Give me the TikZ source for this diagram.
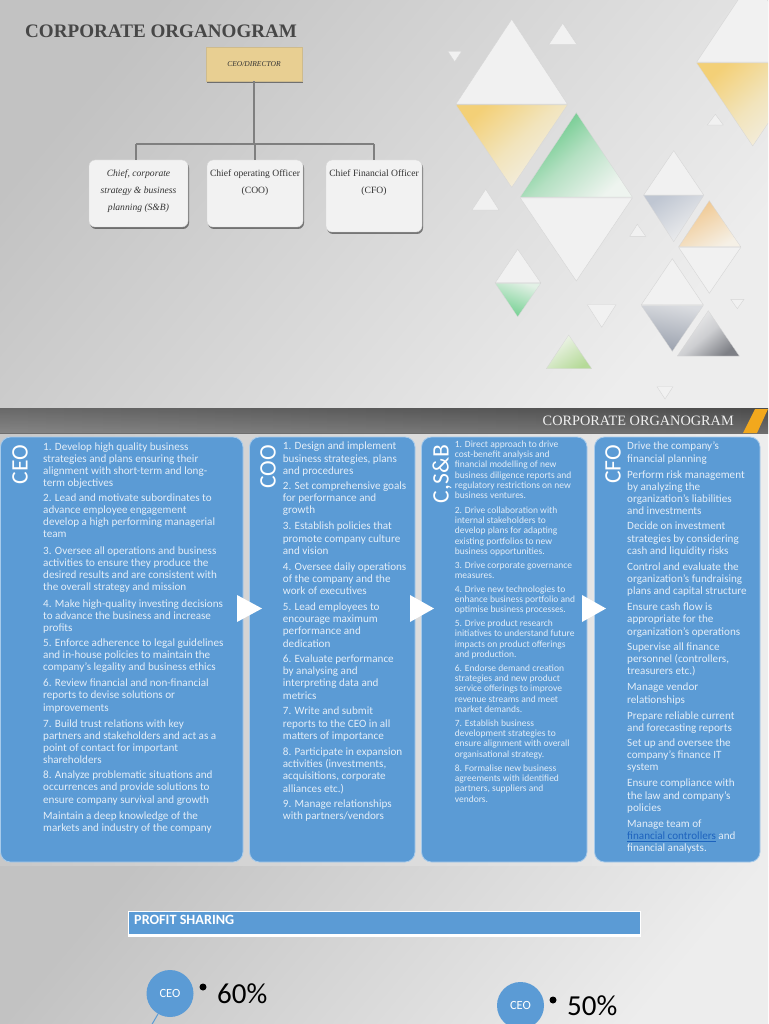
\documentclass[tikz,border=0pt]{standalone}
\usepackage{fontspec}
\setmainfont{Liberation Serif}
\newfontfamily\carlito{Carlito}
\usetikzlibrary{shadows,fadings}
\definecolor{panelblue}{HTML}{5B9BD5}
\definecolor{panelrim}{HTML}{A8CBEB}
\definecolor{bodyink}{HTML}{E4EEF8}
\definecolor{tri}{HTML}{F1F1F1}
\definecolor{triline}{HTML}{D6D6D6}
\definecolor{conn}{HTML}{7F7F7F}
\definecolor{linkblue}{HTML}{1D63BE}
\newcommand{\hexc}[1]{\definecolor{#1}{HTML}{#1}}
\hexc{C2C2C2}\hexc{C8C8C8}\hexc{EDEDED}\hexc{4C4C4C}\hexc{6E6E6E}\hexc{F2A81D}\hexc{F3D077}\hexc{F3F0E8}
\hexc{5AC47E}\hexc{EEF4EF}\hexc{BFC6D2}\hexc{F0F0F0}\hexc{F0C58A}\hexc{F5F0E6}\hexc{DADCE0}\hexc{99A0AD}
\hexc{7E8086}\hexc{E2F0E5}\hexc{6FCF8E}\hexc{F3F6F0}\hexc{B5DA98}\hexc{E8CF92}\hexc{F2F2F2}
\hexc{F2E4BC}\hexc{B4E0C2}\hexc{CDCED1}
\newcommand{\botpad}[1]{\rule[-#1pt]{0pt}{1pt}}
\tikzset{
  x=1pt,y=-1pt,
  panel/.style={fill=panelblue,draw=panelrim,line width=0.8pt,rounded corners=10pt},
  bodytxt/.style={font=\carlito\fontsize{11.12}{12.2}\selectfont,align=left,inner sep=0pt,anchor=north west,text=bodyink,yshift=-1.5pt},
  smalltxt/.style={font=\carlito\fontsize{9.5}{10.3}\selectfont,align=left,inner sep=0pt,anchor=north west,text=bodyink,yshift=-1pt},
  sidetxt/.style={font=\carlito\fontsize{23.6}{24}\selectfont,text=white,rotate=90,inner sep=0pt},
  orgbox/.style={fill=#1,draw=#1!75!gray,line width=0.4pt,inner sep=0pt,align=center,text=black!80,
     drop shadow={shadow xshift=1pt,shadow yshift=-2pt,fill=black,opacity=0.45}},
  orgfont/.style={font=\fontsize{9.6}{17}\selectfont},
  link/.style={draw=conn,line width=1.3pt},
  whitetri/.style={fill=tri,draw=triline,line width=0.4pt},
  arrowtri/.style={fill=white,draw=none},
  slideshade/.style={shading=axis,top color=#1,bottom color=white!93!black,shading angle=50},
  gradtri/.style n args={3}{draw=triline,line width=0.3pt,shading=axis,top color=#1,bottom color=#2,shading angle=#3},
  midtri/.style n args={4}{draw=triline,line width=0.3pt,shading=axis,top color=#1,bottom color=#2,middle color=#3,shading angle=#4},
  ceodot/.style={circle,fill=panelblue,inner sep=0pt,minimum size=47pt,text=white,font=\carlito\fontsize{12.5}{12.5}\selectfont},
  pct/.style={font=\carlito\fontsize{29}{29}\selectfont,text=black,inner sep=0pt,anchor=west},
  bullet/.style={circle,fill=black,inner sep=0pt,minimum size=7pt},
}
\begin{document}
\begin{tikzpicture}
\useasboundingbox (0,0) rectangle (768,1024);
\clip (0,0) rectangle (768,1024);
% backgrounds
\shade[slideshade=C2C2C2] (0,0) rectangle (768,408);
\shade[left color=C8C8C8,right color=EDEDED] (0,408) rectangle (768,866);
\shade[slideshade=C2C2C2] (0,866) rectangle (768,1024);
\shade[top color=4C4C4C,bottom color=6E6E6E] (0,408) rectangle (768,433);
\fill[white,opacity=0.16,path fading=east] (0,408) rectangle (768,433);
\fill[F2A81D] (755,409) -- (768,409) -- (757,433) -- (743,433) -- cycle;
% triangles
\filldraw[whitetri] (511.7,19.3) -- (456,104) -- (567.3,104) -- cycle;
\shadedraw[midtri={F3D077}{F3F0E8}{F2E4BC}{42}] (456,105) -- (567.3,105) -- (511.7,187.3) -- cycle;
\filldraw[whitetri] (562.7,23.3) -- (549,44.3) -- (576.7,44.3) -- cycle;
\filldraw[whitetri] (447.7,51.3) -- (461.7,51.3) -- (454.7,61.7) -- cycle;
\filldraw[whitetri] (696.7,62) -- (808.7,62) -- (752.7,-22) -- cycle;
\shadedraw[midtri={F3D077}{F3F0E8}{F2E4BC}{42}] (696.7,63) -- (808.7,63) -- (752.7,146) -- cycle;
\filldraw[whitetri] (715.3,114.3) -- (707.3,125) -- (723.3,125) -- cycle;
\shadedraw[midtri={5AC47E}{EEF4EF}{B4E0C2}{42}] (576.3,112.7) -- (520.3,197) -- (632.3,197) -- cycle;
\filldraw[whitetri] (520.3,198) -- (632.3,198) -- (576.3,281) -- cycle;
\filldraw[whitetri] (485.7,189.3) -- (472,210) -- (499,210) -- cycle;
\filldraw[whitetri] (637.3,224.3) -- (629.7,236.3) -- (645.7,236.3) -- cycle;
\filldraw[whitetri] (673.7,150.7) -- (643.7,195) -- (703.7,195) -- cycle;
\shadedraw[gradtri={BFC6D2}{F0F0F0}{35}] (643.7,195.5) -- (703.7,195.5) -- (673.7,241.7) -- cycle;
\shadedraw[gradtri={F0C58A}{F5F0E6}{30}] (709.3,200.7) -- (678.7,246.7) -- (740.7,246.7) -- cycle;
\filldraw[whitetri] (678.7,247.5) -- (740.7,247.5) -- (709.3,293.3) -- cycle;
\filldraw[whitetri] (672.3,258.7) -- (641.3,304.7) -- (703.3,304.7) -- cycle;
\shadedraw[gradtri={DADCE0}{99A0AD}{-10}] (641.3,305.5) -- (703.3,305.5) -- (672.3,351.3) -- cycle;
\shadedraw[midtri={F0F0F0}{7E8086}{CDCED1}{40}] (708.3,310.7) -- (677.3,356) -- (739.3,356) -- cycle;
\filldraw[whitetri] (730.7,299.3) -- (744,299.3) -- (737.3,308.7) -- cycle;
\filldraw[whitetri] (517.7,249.3) -- (495.3,282.7) -- (540.7,282.7) -- cycle;
\shadedraw[gradtri={E2F0E5}{6FCF8E}{-20}] (495.3,283.3) -- (540.7,283.3) -- (517.7,316.7) -- cycle;
\filldraw[whitetri] (587.3,304.7) -- (616,304.7) -- (601.7,327.3) -- cycle;
\shadedraw[gradtri={F3F6F0}{B5DA98}{35}] (568.7,335) -- (546.3,368.7) -- (591.7,368.7) -- cycle;
\filldraw[whitetri] (657,386.7) -- (673,386.7) -- (665,399) -- cycle;
% top slide
\node[font=\bfseries\fontsize{19.1}{20}\selectfont,text=black!72,anchor=west,inner sep=0pt] (maintitle) at (25,31) {CORPORATE ORGANOGRAM};
\node[orgbox=E8CF92,minimum width=96pt,minimum height=34pt,font=\itshape\fontsize{7.5}{9}\selectfont] (ceo) at (254,64) {CEO/DIRECTOR};
\node[orgbox=F2F2F2,rounded corners=6pt,minimum width=99pt,minimum height=67pt,font=\itshape\fontsize{9.6}{17}\selectfont] (sb) at (138.5,193.5) {\strut Chief, corporate\\strategy \& business\\planning (S\&B)\botpad{12}};
\node[orgbox=F2F2F2,rounded corners=6pt,minimum width=96pt,minimum height=67pt,orgfont] (coo) at (255,193.5) {\strut Chief operating Officer\\(COO)\\\botpad{12}};
\node[orgbox=F2F2F2,rounded corners=6pt,minimum width=96pt,minimum height=72pt,orgfont] (cfo) at (374,196) {\strut Chief Financial Officer\\(CFO)\\\botpad{17}};
\coordinate (busL) at (136,144);
\coordinate (busR) at (374,144);
\draw[link] (ceo.south) -- (ceo.south |- busL);
\draw[link] (busL) -- (busR);
\draw[link] (busL) -- (busL |- sb.north);
\draw[link] (coo.north) -- (coo.north |- busL);
\draw[link] (busR) -- (busR |- cfo.north);
% band
\node[font=\fontsize{14.3}{16}\selectfont,text=white!94!black,anchor=east,inner sep=0pt] (bandtitle) at (734,420.5) {CORPORATE ORGANOGRAM};
% panels
\draw[panel] (0.5,437) rectangle (243,862);
\draw[panel] (249.5,437) rectangle (415,862);
\draw[panel] (421.5,437) rectangle (587,862);
\draw[panel] (594.5,437) rectangle (760,862);
\node[sidetxt] (lab1) at (20,464.5) {CEO};
\node[sidetxt] (lab2) at (268,467) {COO};
\node[sidetxt] (lab3) at (442,474) {C,S\&B};
\node[sidetxt] (lab4) at (613,464.5) {CFO};
% CEO text
\node[bodytxt] (a1) at (43,440) {\strut 1. Develop high quality business\\strategies and plans ensuring their\\alignment with short-term and long-\\term objectives};
\node[bodytxt] (a2) at (43,491) {\strut 2. Lead and motivate subordinates to\\advance employee engagement\\develop a high performing managerial\\team};
\node[bodytxt] (a3) at (43,544) {\strut 3. Oversee all operations and business\\activities to ensure they produce the\\desired results and are consistent with\\the overall strategy and mission};
\node[bodytxt] (a4) at (43,597) {\strut 4. Make high-quality investing decisions\\to advance the business and increase\\profits};
\node[bodytxt] (a5) at (43,636) {\strut 5. Enforce adherence to legal guidelines\\and in-house policies to maintain the\\company’s legality and business ethics};
\node[bodytxt] (a6) at (43,676.5) {\strut 6. Review financial and non-financial\\reports to devise solutions or\\improvements};
\node[bodytxt] (a7) at (43,717) {\strut 7. Build trust relations with key\\partners and stakeholders and act as a\\point of contact for important\\shareholders};
\node[bodytxt] (a8) at (43,768.5) {\strut 8. Analyze problematic situations and\\occurrences and provide solutions to\\ensure company survival and growth};
\node[bodytxt] (a9) at (43,809) {\strut Maintain a deep knowledge of the\\markets and industry of the company};
% COO text
\node[bodytxt] (b1) at (282.7,439.7) {\strut 1. Design and implement\\business strategies, plans\\and procedures};
\node[bodytxt] (b2) at (282.7,479) {\strut 2. Set comprehensive goals\\for performance and\\growth};
\node[bodytxt] (b3) at (282.7,519.7) {\strut 3. Establish policies that\\promote company culture\\and vision};
\node[bodytxt] (b4) at (282.7,560.3) {\strut 4. Oversee daily operations\\of the company and the\\work of executives};
\node[bodytxt] (b5) at (282.7,600.3) {\strut 5. Lead employees to\\encourage maximum\\performance and\\dedication};
\node[bodytxt] (b6) at (282.7,652.3) {\strut 6. Evaluate performance\\by analysing and\\interpreting data and\\metrics};
\node[bodytxt] (b7) at (282.7,704.7) {\strut 7. Write and submit\\reports to the CEO in all\\matters of importance};
\node[bodytxt] (b8) at (282.7,745.3) {\strut 8. Participate in expansion\\activities (investments,\\acquisitions, corporate\\alliances etc.)};
\node[bodytxt] (b9) at (282.7,797) {\strut 9. Manage relationships\\with partners/vendors};
% C,S&B text
\node[smalltxt] (c1) at (454.7,438.9) {\strut 1. Direct approach to drive\\cost-benefit analysis and\\financial modelling of new\\business diligence reports and\\regulatory restrictions on new\\business ventures.};
\node[smalltxt] (c2) at (454.7,504.9) {\strut 2. Drive collaboration with\\internal stakeholders to\\develop plans for adapting\\existing portfolios to new\\business opportunities.};
\node[smalltxt] (c3) at (454.7,559.9) {\strut 3. Drive corporate governance\\measures.};
\node[smalltxt] (c4) at (454.7,583.9) {\strut 4. Drive new technologies to\\enhance business portfolio and\\optimise business processes.};
\node[smalltxt] (c5) at (454.7,618.2) {\strut 5. Drive product research\\initiatives to understand future\\impacts on product offerings\\and production.};
\node[smalltxt] (c6) at (454.7,662.9) {\strut 6. Endorse demand creation\\strategies and new product\\service offerings to improve\\revenue streams and meet\\market demands.};
\node[smalltxt] (c7) at (454.7,717.9) {\strut 7. Establish business\\development strategies to\\ensure alignment with overall\\organisational strategy.};
\node[smalltxt] (c8) at (454.7,762.9) {\strut 8. Formalise new business\\agreements with identified\\partners, suppliers and\\vendors.};
% CFO text
\node[bodytxt] (d1) at (627,439.7) {\strut Drive the company’s\\financial planning};
\node[bodytxt] (d2) at (627,468) {\strut Perform risk management\\by analyzing the\\organization’s liabilities\\and investments};
\node[bodytxt] (d3) at (627,519.7) {\strut Decide on investment\\strategies by considering\\cash and liquidity risks};
\node[bodytxt] (d4) at (627,560) {\strut Control and evaluate the\\organization’s fundraising\\plans and capital structure};
\node[bodytxt] (d5) at (627,600.5) {\strut Ensure cash flow is\\appropriate for the\\organization’s operations};
\node[bodytxt] (d6) at (627,640.3) {\strut Supervise all finance\\personnel (controllers,\\treasurers etc.)};
\node[bodytxt] (d7) at (627,680.7) {\strut Manage vendor\\relationships};
\node[bodytxt] (d8) at (627,709) {\strut Prepare reliable current\\and forecasting reports};
\node[bodytxt] (d9) at (627,736.3) {\strut Set up and oversee the\\company’s finance IT\\system};
\node[bodytxt] (d10) at (627,776.7) {\strut Ensure compliance with\\the law and company’s\\policies};
\node[bodytxt] (d11) at (627,817.3) {\strut Manage team of\\\textcolor{linkblue}{\underline{financial controllers}} and\\financial analysts.};
% arrows
\fill[arrowtri] (237,595) -- (262,608.5) -- (237,622) -- cycle;
\fill[arrowtri] (410,595) -- (434,608.5) -- (410,622) -- cycle;
\fill[arrowtri] (582,595) -- (606,608.5) -- (582,622) -- cycle;
% profit sharing
\node[fill=panelblue,draw=white,line width=1pt,minimum width=512pt,minimum height=22.5pt,inner sep=0pt] (bar) at (384,923.2) {};
\fill[white] (bar.south west) rectangle ([yshift=-1.6pt]bar.south east);
\node[font=\carlito\bfseries\fontsize{14.2}{14}\selectfont,text=white,anchor=west,inner sep=0pt] (barlabel) at (134,920) {PROFIT SHARING};
\node[ceodot] (c60) at (170,993.5) {CEO};
\node[bullet] (b60) at (203,987) {};
\node[pct] (t60) at (217,993.5) {60\%};
\coordinate (tail) at (151,1026);
\draw[panelblue,line width=1pt] (c60) -- (tail);
\node[ceodot] (c50) at (520.5,1005.5) {CEO};
\node[bullet] (b50) at (553,1000) {};
\node[pct] (t50) at (567,1006) {50\%};
\end{tikzpicture}
\end{document}
